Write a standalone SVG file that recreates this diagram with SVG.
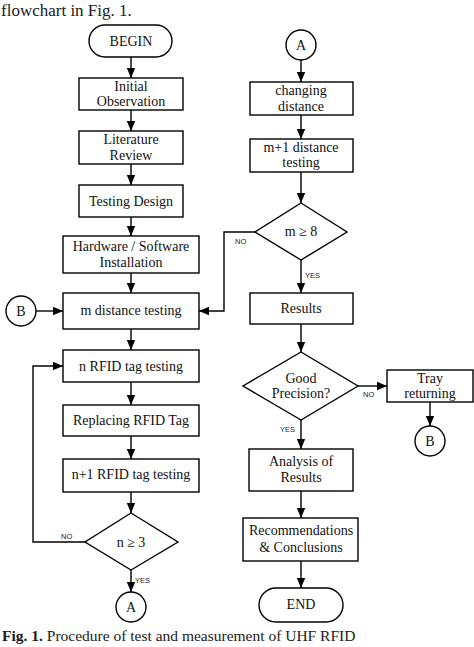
<svg xmlns="http://www.w3.org/2000/svg" width="474" height="647" viewBox="0 0 474 647">
<style>
.box{fill:#fff;stroke:#000;stroke-width:1.4}
.t{font-family:"Liberation Serif","Times New Roman",serif;font-size:14px;fill:#111;text-anchor:middle}
.lbl{font-family:"Liberation Sans",Arial,sans-serif;font-size:7.5px;fill:#222}
.cap{font-family:"Liberation Serif","Times New Roman",serif;fill:#1a1a1a}
.c{fill:none;stroke:#000;stroke-width:1.4}
</style>
<defs>
<marker id="ah" markerUnits="userSpaceOnUse" markerWidth="10" markerHeight="10" viewBox="0 0 10 10" refX="10" refY="5" orient="auto">
<path d="M0,0.8 L10,5 L0,9.2 Z" fill="#000"/>
</marker>
</defs>
<rect width="474" height="647" fill="#fff"/>
<text class="cap" x="1" y="16" font-size="17">flowchart in Fig. 1.</text>
<text class="cap" x="2" y="641" font-size="15.5"><tspan font-weight="bold">Fig. 1.</tspan> Procedure of test and measurement of UHF RFID</text>

<g id="connectors">
<path class="c" d="M131,57 V78" marker-end="url(#ah)"/>
<path class="c" d="M131,110 V131" marker-end="url(#ah)"/>
<path class="c" d="M131,164 V185" marker-end="url(#ah)"/>
<path class="c" d="M131,217 V236" marker-end="url(#ah)"/>
<path class="c" d="M131,273 V293" marker-end="url(#ah)"/>
<path class="c" d="M131,329 V350" marker-end="url(#ah)"/>
<path class="c" d="M131,382 V405" marker-end="url(#ah)"/>
<path class="c" d="M131,436 V459" marker-end="url(#ah)"/>
<path class="c" d="M131,492 V513" marker-end="url(#ah)"/>
<path class="c" d="M131,570 V592" marker-end="url(#ah)"/>
<path class="c" d="M85,542 H33 V366 H63" marker-end="url(#ah)"/>
<path class="c" d="M36,311 H63" marker-end="url(#ah)"/>
<path class="c" d="M255,232 H224 V311 H199" marker-end="url(#ah)"/>
<path class="c" d="M301,60 V82" marker-end="url(#ah)"/>
<path class="c" d="M301,115 V139" marker-end="url(#ah)"/>
<path class="c" d="M301,172 V203" marker-end="url(#ah)"/>
<path class="c" d="M301,260 V293" marker-end="url(#ah)"/>
<path class="c" d="M301,324 V352" marker-end="url(#ah)"/>
<path class="c" d="M358,386 H387" marker-end="url(#ah)"/>
<path class="c" d="M430,402 V426" marker-end="url(#ah)"/>
<path class="c" d="M301,420 V449" marker-end="url(#ah)"/>
<path class="c" d="M301,491 V518" marker-end="url(#ah)"/>
<path class="c" d="M301,561 V588" marker-end="url(#ah)"/>
<text class="lbl" x="61" y="539">NO</text>
<text class="lbl" x="135" y="583">YES</text>
<text class="lbl" x="235" y="244">NO</text>
<text class="lbl" x="305" y="278">YES</text>
<text class="lbl" x="363" y="397">NO</text>
<text class="lbl" x="280" y="432">YES</text>
</g>

<g id="begin"><rect class="box" x="89" y="25" width="83" height="32" rx="16"/><text class="t" x="131" y="46">BEGIN</text></g>
<g id="initial"><rect class="box" x="79" y="78" width="104" height="32"/><text class="t" x="131" y="91">Initial</text><text class="t" x="131" y="106">Observation</text></g>
<g id="literature"><rect class="box" x="79" y="131" width="104" height="33"/><text class="t" x="131" y="144">Literature</text><text class="t" x="131" y="160">Review</text></g>
<g id="design"><rect class="box" x="79" y="185" width="104" height="32"/><text class="t" x="131" y="206">Testing Design</text></g>
<g id="install"><rect class="box" x="63" y="236" width="136" height="37"/><text class="t" x="131" y="251">Hardware / Software</text><text class="t" x="131" y="267">Installation</text></g>
<g id="mdist"><rect class="box" x="63" y="293" width="136" height="36"/><text class="t" x="131" y="315">m distance testing</text></g>
<g id="nrfid"><rect class="box" x="63" y="350" width="136" height="32"/><text class="t" x="131" y="371">n RFID tag testing</text></g>
<g id="replace"><rect class="box" x="63" y="405" width="136" height="31"/><text class="t" x="131" y="425">Replacing RFID Tag</text></g>
<g id="n1rfid"><rect class="box" x="63" y="459" width="136" height="33"/><text class="t" x="131" y="479">n+1 RFID tag testing</text></g>
<g id="ndec"><polygon class="box" points="131,513 178,542 131,570 85,542"/><text class="t" x="131" y="547">n ≥ 3</text></g>
<g id="connA1"><circle class="box" cx="131" cy="607" r="15"/><text class="t" x="131" y="612">A</text></g>
<g id="connB1"><circle class="box" cx="21" cy="311" r="15"/><text class="t" x="21" y="316">B</text></g>

<g id="connA2"><circle class="box" cx="301" cy="45" r="15"/><text class="t" x="301" y="50">A</text></g>
<g id="changing"><rect class="box" x="250" y="82" width="103" height="33"/><text class="t" x="301" y="95">changing</text><text class="t" x="301" y="111">distance</text></g>
<g id="m1dist"><rect class="box" x="250" y="139" width="103" height="33"/><text class="t" x="301" y="152">m+1 distance</text><text class="t" x="301" y="167">testing</text></g>
<g id="mdec"><polygon class="box" points="301,203 347,232 301,260 255,232"/><text class="t" x="301" y="236">m ≥ 8</text></g>
<g id="results"><rect class="box" x="250" y="293" width="103" height="31"/><text class="t" x="301" y="313">Results</text></g>
<g id="precision"><polygon class="box" points="301,352 358,386 301,420 243,386"/><text class="t" x="301" y="383">Good</text><text class="t" x="301" y="398">Precision?</text></g>
<g id="tray"><rect class="box" x="387" y="370" width="86" height="32"/><text class="t" x="430" y="383">Tray</text><text class="t" x="430" y="398">returning</text></g>
<g id="connB2"><circle class="box" cx="430" cy="441" r="15"/><text class="t" x="430" y="446">B</text></g>
<g id="analysis"><rect class="box" x="249" y="449" width="104" height="42"/><text class="t" x="301" y="466">Analysis of</text><text class="t" x="301" y="482">Results</text></g>
<g id="recs"><rect class="box" x="243" y="518" width="115" height="43"/><text class="t" x="301" y="535">Recommendations</text><text class="t" x="301" y="552">&amp; Conclusions</text></g>
<g id="end"><rect class="box" x="259" y="588" width="84" height="34" rx="17"/><text class="t" x="301" y="609">END</text></g>
</svg>
